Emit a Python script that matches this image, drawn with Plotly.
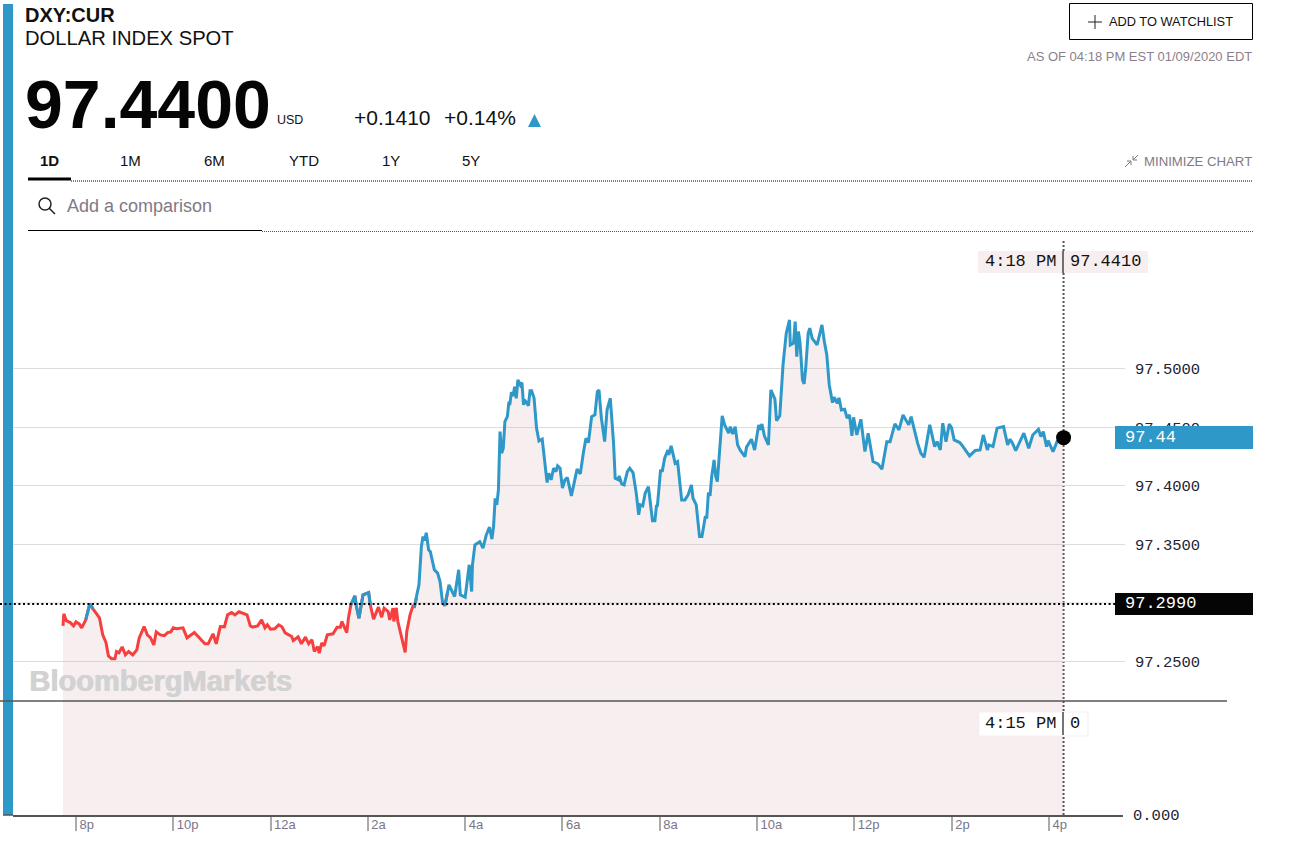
import pandas as pd
import plotly.graph_objects as go

W, H = 1294, 842
BLUE = '#2e98c9'
RED = '#f5403f'
SANS = 'Liberation Sans'
MONO = 'Liberation Mono'

prev_close = 97.299
session_start = pd.Timestamp('2020-01-08 19:44')

# minutes after session_start
minutes = [
    0, 1, 4, 9, 13, 16, 20, 23, 28, 33, 37, 42, 45, 49, 53, 56, 60, 64, 66, 69,
    73, 77, 81, 86, 91, 94, 100, 104, 108, 112, 115, 120, 125, 129, 133, 136, 140, 148, 153, 162,
    169, 175, 179, 185, 189, 194, 199, 203, 208, 212, 217, 227, 231, 234, 240, 245, 249, 252, 256, 261,
    266, 270, 274, 282, 284, 290, 294, 299, 303, 307, 310, 314, 316, 319, 322, 326, 333, 338, 342, 344,
    350, 352, 355, 360, 362, 365, 370, 377, 379, 383, 389, 393, 396, 401, 403, 407, 408, 411, 413, 416,
    420, 422, 424, 428, 432, 433, 436, 439, 442, 444, 446, 448, 451, 453, 458, 462, 465, 468, 471, 474,
    476, 483, 488, 490, 496, 501, 504, 505, 508, 514, 518, 522, 526, 529, 531, 533, 535, 537, 539, 541,
    543, 545, 548, 550, 551, 553, 555, 557, 559, 561, 564, 566, 568, 569, 571, 574, 576, 578, 581, 584,
    587, 591, 594, 597, 599, 602, 605, 608, 610, 613, 616, 619, 622, 624, 627, 634, 638, 642, 645, 648,
    652, 656, 659, 661, 664, 668, 671, 675, 679, 681, 685, 686, 689, 692, 696, 699, 703, 707, 710, 712,
    715, 718, 722, 727, 730, 732, 733, 737, 739, 742, 746, 747, 750, 755, 758, 763, 767, 771, 775, 777,
    781, 785, 788, 792, 794, 796, 798, 800, 803, 805, 807, 813, 816, 821, 823, 826, 829, 832, 835, 841,
    843, 849, 853, 858, 860, 862, 865, 870, 873, 878, 880, 884, 888, 892, 896, 897, 901, 903, 905, 907,
    909, 912, 914, 916, 919, 921, 924, 930, 936, 939, 942, 945, 949, 951, 955, 957, 960, 964, 967, 970,
    973, 975, 979, 984, 989, 993, 999, 1005, 1010, 1016, 1020, 1026, 1031, 1036, 1041, 1043, 1046, 1054, 1058, 1062,
    1069, 1075, 1078, 1082, 1085, 1089, 1093, 1096, 1099, 1106, 1110, 1118, 1125, 1131, 1135, 1140, 1142, 1147, 1152, 1160,
    1165, 1168, 1171, 1175, 1185, 1191, 1196, 1203, 1206, 1209, 1213, 1215, 1221, 1226, 1234,
]
prices = [
    97.2804, 97.2907, 97.2849, 97.2832, 97.2804, 97.2838, 97.2821, 97.2787, 97.2855, 97.2992, 97.2949, 97.2898, 97.2872, 97.2727, 97.2662, 97.2548, 97.2523, 97.2523, 97.2585, 97.2574,
    97.2625, 97.2557, 97.2585, 97.2557, 97.2599, 97.2702, 97.2798, 97.2727, 97.2702, 97.2642, 97.2753, 97.2727, 97.2721, 97.2747, 97.2753, 97.2787, 97.2779, 97.2787, 97.2702, 97.2747,
    97.2693, 97.2651, 97.2651, 97.2736, 97.2651, 97.2798, 97.2796, 97.2898, 97.2918, 97.2898, 97.2924, 97.2898, 97.2804, 97.2793, 97.2804, 97.2855, 97.2787, 97.2813, 97.2776, 97.2779,
    97.2813, 97.2796, 97.2745, 97.2713, 97.2679, 97.2710, 97.2651, 97.2708, 97.2651, 97.2685, 97.2585, 97.2628, 97.2571, 97.2657, 97.2634, 97.2727, 97.2736, 97.2793, 97.2793, 97.2841,
    97.2747, 97.2870, 97.2983, 97.3060, 97.2966, 97.2870, 97.3069, 97.3088, 97.2983, 97.2861, 97.2964, 97.2878, 97.2955, 97.2926, 97.2855, 97.2955, 97.2841, 97.2958, 97.2841, 97.2756,
    97.2628, 97.2577, 97.2756, 97.2898, 97.2983, 97.2958, 97.3043, 97.3154, 97.3481, 97.3566, 97.3532, 97.3598, 97.3452, 97.3438, 97.3282, 97.3254, 97.3182, 97.3011, 97.2975, 97.3083,
    97.3154, 97.3054, 97.3282, 97.3069, 97.3049, 97.3325, 97.3097, 97.3325, 97.3495, 97.3523, 97.3467, 97.3580, 97.3646, 97.3544, 97.3651, 97.3893, 97.3836, 97.3964, 97.4462, 97.4277,
    97.4320, 97.4547, 97.4589, 97.4718, 97.4689, 97.4798, 97.4766, 97.4845, 97.4746, 97.4903, 97.4860, 97.4880, 97.4689, 97.4732, 97.4718, 97.4681, 97.4811, 97.4811, 97.4746, 97.4491,
    97.4382, 97.4397, 97.4192, 97.4027, 97.4107, 97.4050, 97.4149, 97.4120, 97.4169, 97.4149, 97.3979, 97.4050, 97.4069, 97.4007, 97.3913, 97.4141, 97.4101, 97.4291, 97.4405, 97.4368,
    97.4589, 97.4604, 97.4803, 97.4817, 97.4576, 97.4376, 97.4647, 97.4746, 97.4363, 97.4064, 97.4050, 97.4084, 97.4015, 97.4007, 97.4120, 97.4149, 97.4112, 97.3936, 97.3751, 97.3836,
    97.3828, 97.3936, 97.3992, 97.3702, 97.3702, 97.3836, 97.3822, 97.4135, 97.4120, 97.4235, 97.4305, 97.4263, 97.4340, 97.4192, 97.4206, 97.3879, 97.3879, 97.3922, 97.4007, 97.3893,
    97.3836, 97.3566, 97.3566, 97.3731, 97.3731, 97.3941, 97.3913, 97.4078, 97.4220, 97.4078, 97.4035, 97.4596, 97.4519, 97.4448, 97.4504, 97.4442, 97.4504, 97.4348, 97.4305, 97.4248,
    97.4329, 97.4397, 97.4305, 97.4519, 97.4476, 97.4527, 97.4425, 97.4348, 97.4817, 97.4738, 97.4555, 97.4596, 97.5031, 97.5301, 97.5414, 97.5201, 97.5216, 97.5400, 97.5101, 97.5315,
    97.5218, 97.4903, 97.4868, 97.5002, 97.5301, 97.5344, 97.5258, 97.5201, 97.5372, 97.5229, 97.5116, 97.4860, 97.4709, 97.4755, 97.4704, 97.4749, 97.4647, 97.4653, 97.4576, 97.4604,
    97.4425, 97.4584, 97.4433, 97.4567, 97.4291, 97.4448, 97.4206, 97.4186, 97.4141, 97.4376, 97.4376, 97.4527, 97.4476, 97.4604, 97.4547, 97.4519, 97.4590, 97.4363, 97.4277, 97.4243,
    97.4519, 97.4334, 97.4376, 97.4305, 97.4533, 97.4376, 97.4527, 97.4491, 97.4391, 97.4368, 97.4334, 97.4254, 97.4300, 97.4305, 97.4433, 97.4305, 97.4348, 97.4334, 97.4491, 97.4504,
    97.4348, 97.4397, 97.4363, 97.4300, 97.4448, 97.4320, 97.4433, 97.4482, 97.4419, 97.4462, 97.4334, 97.4385, 97.4291, 97.4376, 97.4410,
]

price_ticks = [97.25, 97.35, 97.40, 97.45, 97.50]
grid_only = [97.30]
time_ticks = ['2020-01-08 20:00', '2020-01-08 22:00', '2020-01-09 00:00', '2020-01-09 02:00', '2020-01-09 04:00',
              '2020-01-09 06:00', '2020-01-09 08:00', '2020-01-09 10:00', '2020-01-09 12:00', '2020-01-09 14:00',
              '2020-01-09 16:00']
time_labels = ['8p', '10p', '12a', '2a', '4a', '6a', '8a', '10a', '12p', '2p', '4p']
tabs = ['1D', '1M', '6M', 'YTD', '1Y', '5Y']
tab_x = [49, 130, 214, 304, 391, 471]

times = [session_start + pd.Timedelta(minutes=m) for m in minutes]


def px(x):
    return x / W


def py(y):
    return 1 - y / H


# line is red below the previous close and blue above it
up_y, down_y = [], []
for i, p in enumerate(prices):
    nxt = prices[i + 1] if i + 1 < len(prices) else p
    prv = prices[i - 1] if i > 0 else p
    up_y.append(p if p >= prev_close or nxt >= prev_close or prv >= prev_close else None)
    down_y.append(p if p < prev_close or nxt < prev_close or prv < prev_close else None)

fig = go.Figure()
fig.add_trace(go.Scatter(x=times, y=prices, mode='none', fill='tozeroy',
                         fillcolor='rgba(215,170,175,0.2)', xaxis='x', yaxis='y'))
fig.add_trace(go.Scatter(x=times, y=down_y, mode='lines', line=dict(color=RED, width=3),
                         connectgaps=False, xaxis='x', yaxis='y'))
fig.add_trace(go.Scatter(x=times, y=up_y, mode='lines', line=dict(color=BLUE, width=3),
                         connectgaps=False, xaxis='x', yaxis='y'))
fig.add_trace(go.Scatter(x=times[-1:], y=prices[-1:], mode='markers',
                         marker=dict(color='black', size=15), xaxis='x', yaxis='y'))
# empty trace keeps the volume axis alive
fig.add_trace(go.Scatter(x=times[-1:], y=[0], mode='none', xaxis='x2', yaxis='y2'))

# pixel positions of the panels on the page
left, right = 13, 1125
price_top, price_bottom, vol_bottom = 240, 701, 815
px_per_unit = 58.6 / 0.05
min_per_px = 60 / 48.65
x_range = [session_start + pd.Timedelta(minutes=(left - 63) * min_per_px),
           session_start + pd.Timedelta(minutes=(right - 63) * min_per_px)]
y_range = [97.25 - (price_bottom - 661.5) / px_per_unit,
           97.50 + (368.5 - price_top) / px_per_unit]

shapes = []
annotations = []


def line(x0, y0, x1, y1, color='black', width=1, dash='solid'):
    shapes.append(dict(type='line', xref='paper', yref='paper', x0=px(x0), x1=px(x1), y0=py(y0), y1=py(y1),
                       line=dict(color=color, width=width, dash=dash)))


def box(x0, y0, x1, y1, fill, edge=None, width=0):
    shapes.append(dict(type='rect', xref='paper', yref='paper', x0=px(x0), x1=px(x1), y0=py(y0), y1=py(y1),
                       fillcolor=fill, line=dict(color=edge or fill, width=width)))


def label(x, y, text, size, color='#111111', anchor='left', font=SANS, bold=False, shadow=None):
    # annotations carry a 1px border box, so nudge the text back onto x
    nudge = {'left': -1, 'right': 1, 'center': 0}[anchor]
    f = dict(family=font, size=size, color=color)
    if shadow:
        f['shadow'] = shadow
    annotations.append(dict(xref='paper', yref='paper', x=px(x + nudge), y=py(y),
                            text=f'<b>{text}</b>' if bold else text,
                            showarrow=False, xanchor=anchor, yanchor='middle', font=f, borderpad=0))


# fill continues through the volume panel
shapes.append(dict(type='rect', xref='x2', yref='y2 domain', x0=times[0], x1=times[-1], y0=0, y1=1,
                   fillcolor='#f7eeef', line=dict(width=0), layer='below'))

box(3, 4, 13, 815, BLUE)

# header
label(25, 15, 'DXY:CUR', 20, bold=True)
label(25, 38, 'DOLLAR INDEX SPOT', 20.2)
label(25, 104, '97.4400', 68, color='#050505', bold=True)
label(277, 120, 'USD', 12.5)
label(354, 117, '+0.1410', 21)
label(444, 117, '+0.14%', 21)
shapes.append(dict(type='path', xref='paper', yref='paper', fillcolor=BLUE, line=dict(width=0),
                   path=f'M {px(528)} {py(127)} L {px(541)} {py(127)} L {px(534.5)} {py(114)} Z'))

box(1069.5, 3.5, 1252.5, 39.5, 'white', edge='black', width=1)
line(1088, 22, 1102, 22, color='#222222')
line(1095, 15, 1095, 29, color='#222222')
label(1109, 22, 'ADD TO WATCHLIST', 12.8)
label(1252, 56, 'AS OF 04:18 PM EST 01/09/2020 EDT', 13, color='#8c7f8c', anchor='right')

# range tabs
for tab, x in zip(tabs, tab_x):
    label(x, 161, tab, 15, anchor='center', bold=tab == '1D')
line(28, 179, 71, 179, width=3)
line(71, 181, 1253, 181, dash='1px,1px')
label(1252, 162, 'MINIMIZE CHART', 13.2, color='#7f7a85', anchor='right')
line(1125, 167, 1131, 161, color='#7f7a85')
line(1127, 161, 1131, 161, color='#7f7a85')
line(1131, 161, 1131, 165, color='#7f7a85')
line(1138, 155, 1133, 160, color='#7f7a85')
line(1133, 156, 1133, 160, color='#7f7a85')
line(1133, 160, 1137, 160, color='#7f7a85')

# comparison box
shapes.append(dict(type='circle', xref='paper', yref='paper', x0=px(39), x1=px(51), y0=py(198), y1=py(210),
                   line=dict(color='#222222', width=1.5)))
line(49, 208, 55, 214, color='#222222', width=1.5)
label(67, 206, 'Add a comparison', 18, color='#7f7a85')
line(28, 230.5, 262, 230.5)
line(262, 231.5, 1253, 231.5, color='#555555', dash='1px,1px')

# watermark
label(29, 681, 'BloombergMarkets', 29, color='#d2d2d2', bold=True, shadow='1px 0 0 #d2d2d2')

# guides
line(0, price_bottom, 1227, price_bottom, color='#555555', width=1.5)
line(3, vol_bottom, left, vol_bottom, color='#555555', width=1.5)
shapes.append(dict(type='line', xref='paper', yref='y', x0=0, x1=px(1115), y0=prev_close, y1=prev_close,
                   line=dict(color='black', width=2, dash='2px,2.6px')))
shapes.append(dict(type='line', xref='x', yref='paper', x0=times[-1], x1=times[-1], y0=py(vol_bottom), y1=py(price_top),
                   line=dict(color='#555555', width=2, dash='2px,2px'), layer='below'))

# crosshair readouts
box(978, 251, 1148, 273, '#f7eeef')
line(1063, 251, 1063, 273, color='#444444', width=1.5)
label(1056, 262, '4:18 PM', 17, anchor='right', font=MONO)
label(1070, 262, '97.4410', 17, font=MONO)
box(979, 712, 1088, 736, 'white', edge='#f7eeef', width=1)
line(1063, 712, 1063, 735, color='#444444', width=1.5)
label(1056, 723, '4:15 PM', 17, anchor='right', font=MONO)
label(1070, 723, '0', 17, font=MONO)

# price flags on the axis
box(1115, 426, 1253, 449, BLUE)
label(1125, 437.5, '97.44', 17, color='white', font=MONO)
box(1115, 593, 1253, 615, '#050505')
label(1125, 603.5, '97.2990', 17, color='white', font=MONO)

# the 97.30 gridline has no visible label: it sits behind the black flag
for level in grid_only:
    shapes.append(dict(type='line', xref='paper', yref='y', x0=px(left), x1=px(right), y0=level, y1=level,
                       line=dict(color='#dcdcdc', width=1), layer='below'))

axis_font = dict(family=MONO, size=15.5, color='#222233')
fig.update_layout(
    width=W, height=H, margin=dict(l=0, r=0, t=0, b=0),
    paper_bgcolor='white', plot_bgcolor='rgba(0,0,0,0)', showlegend=False,
    shapes=shapes, annotations=annotations,
    xaxis=dict(domain=[px(left), px(right)], range=x_range, anchor='y', visible=False, automargin=False),
    yaxis=dict(domain=[py(price_bottom), py(price_top)], range=y_range, side='right', anchor='x',
               tickvals=price_ticks, tickformat='.4f', tickfont=axis_font, ticks='',
               ticklabelstandoff=9, showline=False, zeroline=False, automargin=False,
               showgrid=True, gridcolor='#dcdcdc', gridwidth=1),
    xaxis2=dict(domain=[px(left), px(1123)], range=[x_range[0], session_start + pd.Timedelta(minutes=(1123 - 63) * min_per_px)],
                anchor='y2', tickvals=time_ticks, ticktext=time_labels,
                ticks='outside', ticklen=14, tickwidth=1.5, tickcolor='#aaaaaa',
                ticklabelposition='outside right', ticklabelstandoff=-3, ticklabelshift=2,
                showline=True, linecolor='#555555', linewidth=1.5,
                showgrid=False, zeroline=False, automargin=False,
                tickfont=dict(family=SANS, size=13, color='#7c7488')),
    yaxis2=dict(domain=[py(vol_bottom), py(price_bottom)], range=[0, 1], side='right', anchor='x2',
                tickvals=[0], tickformat='.3f', tickfont=axis_font, ticks='', automargin=False,
                ticklabelstandoff=9, showline=False, showgrid=False, zeroline=False),
)

fig.write_html('out.html', config={'displayModeBar': False}, post_script="document.body.style.margin='0';")
